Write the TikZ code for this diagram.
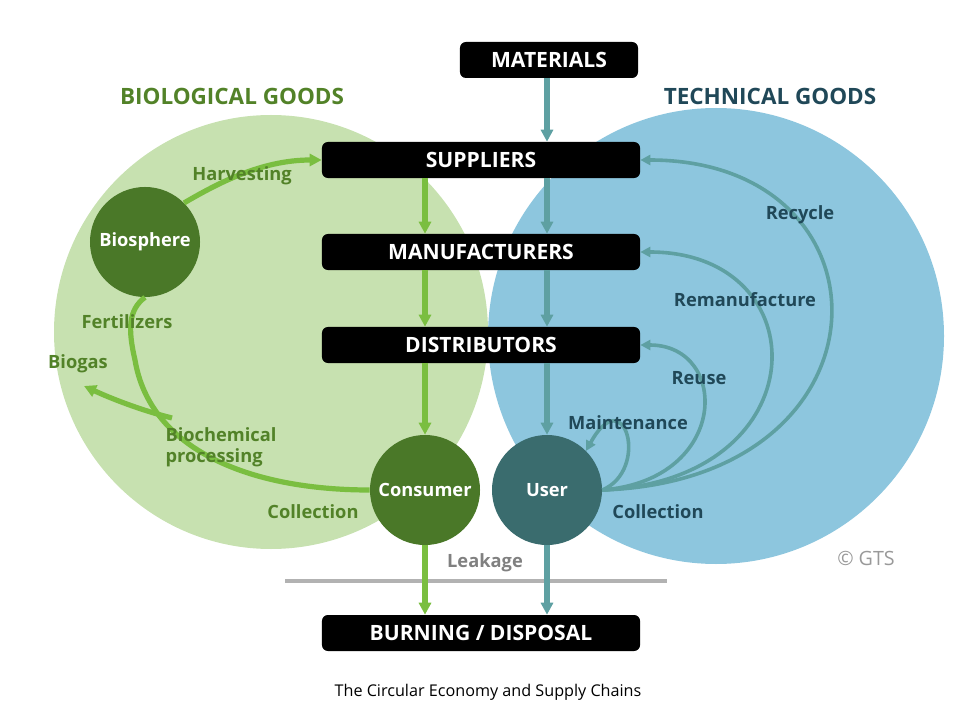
\documentclass[tikz,border=0pt]{standalone}
\usepackage{fontspec}
\setmainfont{Open Sans}
\usetikzlibrary{positioning, arrows.meta, calc}
\definecolor{biolight}{RGB}{199,225,176}
\definecolor{techlight}{RGB}{141,198,222}
\definecolor{biodark}{RGB}{74,120,40}
\definecolor{techdark}{RGB}{58,108,110}
\definecolor{biogreen}{RGB}{122,190,64}
\definecolor{techteal}{RGB}{94,160,162}
\definecolor{biotext}{RGB}{82,130,40}
\definecolor{techtext}{RGB}{32,72,88}

\begin{document}
\begin{tikzpicture}[x=0.025cm, y=-0.025cm,
  stage/.style={rectangle, fill=black, text=white, rounded corners=1.5mm, minimum height=0.9cm, font=\fontsize{15}{17}\selectfont\bfseries},
  hub/.style={circle, minimum size=2.75cm, text=white, font=\fontsize{13}{15}\selectfont\bfseries},
  biolabel/.style={text=biotext, font=\fontsize{13}{15}\selectfont\bfseries, align=left},
  techlabel/.style={text=techtext, font=\fontsize{13}{15}\selectfont\bfseries},
  bioarrow/.style={-{Triangle[length=3mm,width=3mm]}, line width=1.3mm, biogreen},
  techarrow/.style={-{Triangle[length=3mm,width=3mm]}, line width=1.3mm, techteal},
  loop/.style={-{Triangle[length=2.5mm,width=2.5mm]}, line width=0.9mm, techteal}
]
\useasboundingbox (0,0) rectangle (970,720);

% Background circles
\fill[biolight] (271,332) circle (217);
\fill[techlight] (716,336) circle (228);

% Titles
\node[text=biotext, font=\fontsize{16}{18}\selectfont\bfseries] (biotitle) at (232,96) {BIOLOGICAL GOODS};
\node[text=techtext, font=\fontsize{16}{18}\selectfont\bfseries] (techtitle) at (770,96) {TECHNICAL GOODS};

% Supply chain
\node[stage, minimum width=4.45cm] (materials) at (549,60) {MATERIALS};
\node[stage, minimum width=7.95cm] (suppliers) at (481,160) {SUPPLIERS};
\node[stage, minimum width=7.95cm] (manufacturers) at (481,252) {MANUFACTURERS};
\node[stage, minimum width=7.95cm] (distributors) at (481,345) {DISTRIBUTORS};
\node[stage, minimum width=7.95cm] (disposal) at (481,633) {BURNING / DISPOSAL};

% Hubs
\node[hub, fill=biodark] (biosphere) at (145,242) {Biosphere};
\node[hub, fill=biodark] (consumer) at (425,490) {Consumer};
\node[hub, fill=techdark] (user) at (547,490) {User};

% Chain arrows
\draw[techarrow] (materials.south -| user) -- (suppliers.north -| user);
\draw[bioarrow] (suppliers.south -| consumer) -- (manufacturers.north -| consumer);
\draw[bioarrow] (manufacturers.south -| consumer) -- (distributors.north -| consumer);
\draw[bioarrow] (distributors.south -| consumer) -- (consumer.north);
\draw[techarrow] (suppliers.south -| user) -- (manufacturers.north -| user);
\draw[techarrow] (manufacturers.south -| user) -- (distributors.north -| user);
\draw[techarrow] (distributors.south -| user) -- (user.north);

% Leakage
\draw[line width=0.8mm, gray!60] (285,581) coordinate (leakleft) -- (667,581) coordinate (leakright);
\node[text=gray, font=\fontsize{13}{15}\selectfont\bfseries] (leakage) at (485,563) {Leakage};
\draw[bioarrow] (consumer.south) -- (disposal.north -| consumer);
\draw[techarrow] (user.south) -- (disposal.north -| user);

% Biological cycle
\draw[biogreen, line width=1.3mm] (consumer.west) .. controls (250,490) and (150,450) .. (135,360)
  coordinate (biobranch) .. controls (128,330) and (128,310) .. (biosphere.south);
\coordinate (biogasend) at (84,386);
\draw[bioarrow] (172,418) .. controls (140,410) and (110,398) .. (biogasend);
\draw[bioarrow] (biosphere.north east) .. controls (215,185) and (260,160) .. (suppliers.west);

\node[biolabel] (harvesting) at (242,176) {Harvesting};
\node[biolabel] (fertilizers) at (127,322) {Fertilizers};
\node[biolabel] (biogas) at (78,364) {Biogas};
\node[biolabel] (biochem) at (221,447) {Biochemical\\processing};
\node[biolabel] (biocollect) at (313,512) {Collection};

% Technical cycles
\draw[loop] (user.east) .. controls (900,480) and (900,160) .. (suppliers.east);
\draw[loop] (user.east) .. controls (820,480) and (820,252) .. (manufacturers.east);
\draw[loop] (user.east) .. controls (730,480) and (730,345) .. (distributors.east);
\draw[loop] (user.east) .. controls (650,470) and (625,380) .. (user.north east);

\node[techlabel] (recycle) at (800,215) {Recycle};
\node[techlabel] (reman) at (745,300) {Remanufacture};
\node[techlabel] (reuse) at (699,378) {Reuse};
\node[techlabel] (maintenance) at (628,423) {Maintenance};
\node[techlabel] (techcollect) at (658,512) {Collection};
\node[text=gray!80, font=\fontsize{14}{16}\selectfont] (gts) at (866,558) {© GTS};

% Caption
\node[font=\fontsize{11.5}{13}\selectfont] (caption) at (488,692) {The Circular Economy and Supply Chains};
\end{tikzpicture}
\end{document}
